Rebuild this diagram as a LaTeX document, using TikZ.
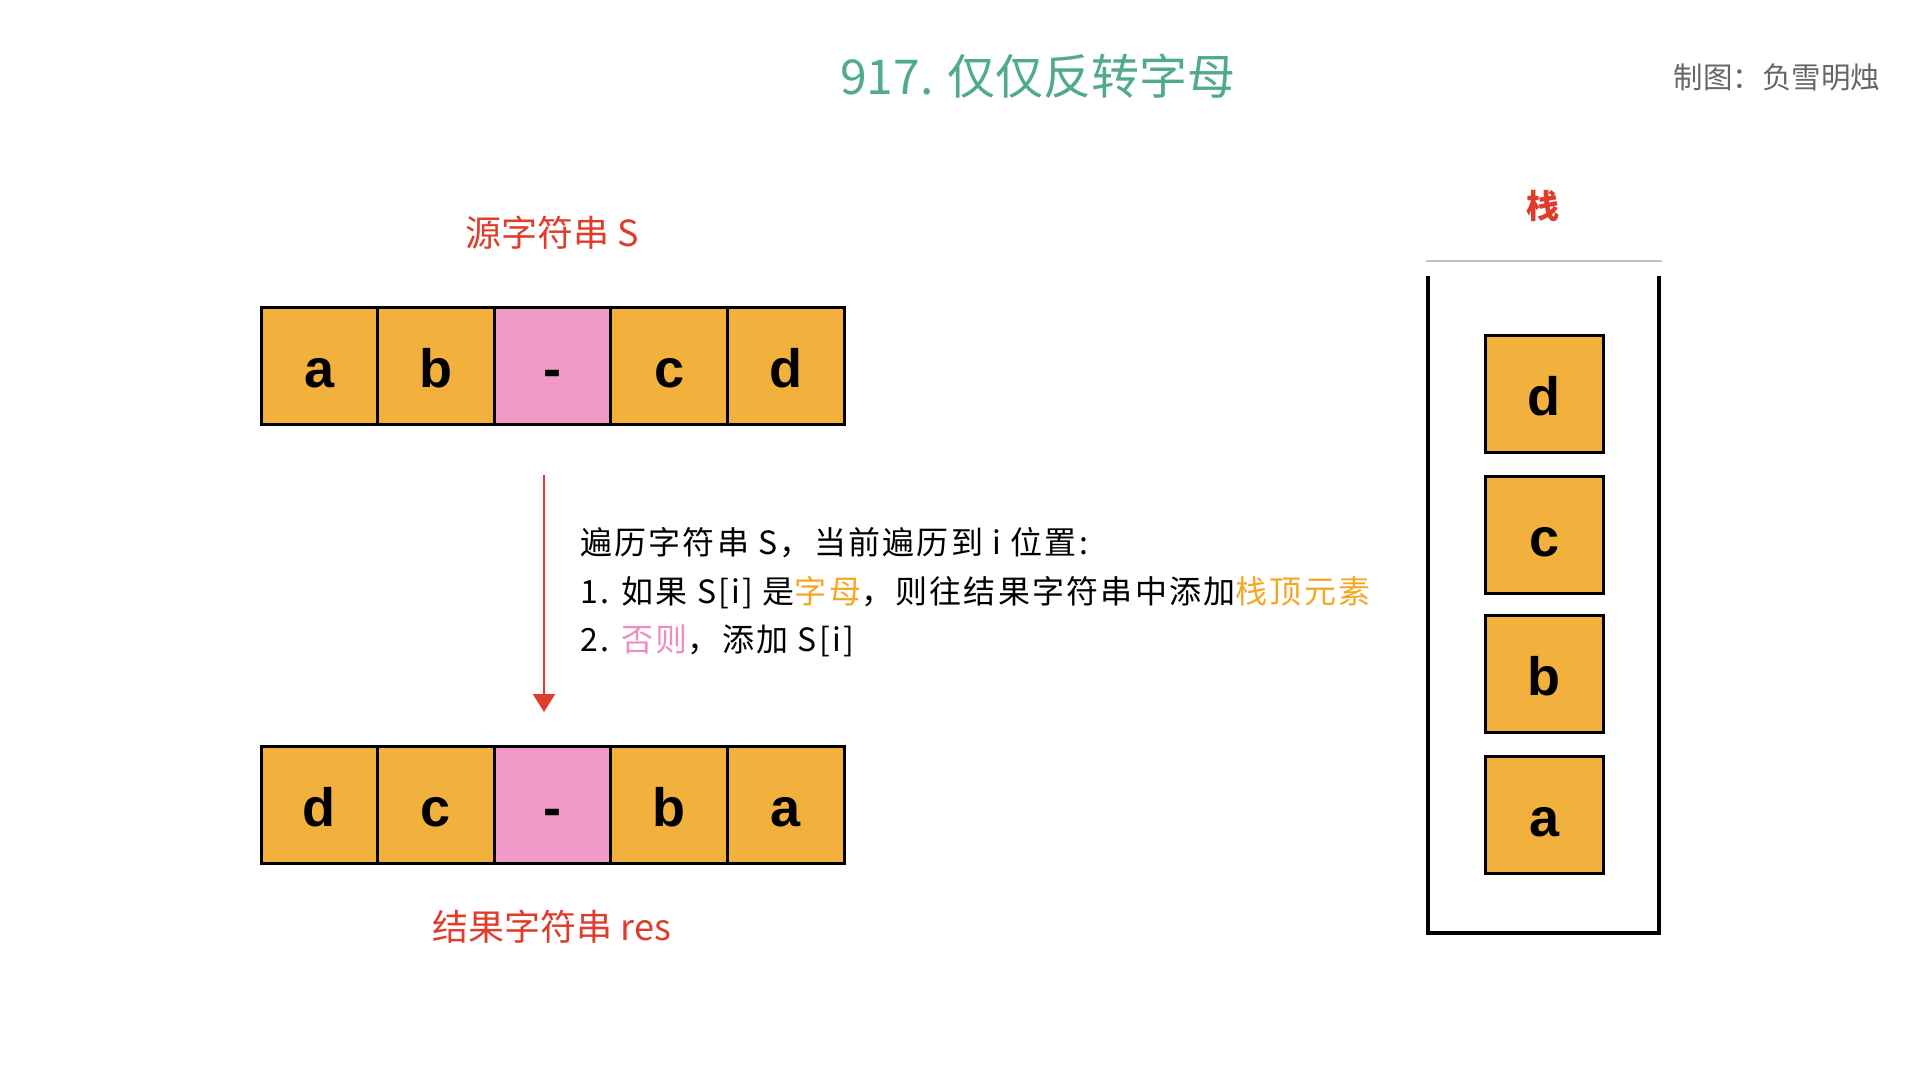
\documentclass[tikz,border=0pt]{standalone}
\usepackage{fontspec}
\setmainfont{Liberation Sans}
\newfontfamily\cjk{Noto Sans CJK SC}
\newfontfamily\cjkwide{Noto Sans CJK SC}[LetterSpace=7]
\usetikzlibrary{arrows.meta}
\definecolor{cellor}{HTML}{F2B03D}
\definecolor{cellpk}{HTML}{F29AC7}
\definecolor{ttlgreen}{HTML}{4FAB8A}
\definecolor{lblred}{HTML}{E03C2C}
\definecolor{txtor}{HTML}{F5A623}
\definecolor{txtpk}{HTML}{F08CC0}
\definecolor{authgrey}{HTML}{666666}
\tikzset{
  cell/.style={draw=black, line width=3pt, fill=cellor, minimum width=116.6pt, minimum height=117pt, inner sep=0pt, text height=43pt, text depth=0pt, font=\fontsize{54}{60}\selectfont\bfseries},
  pcell/.style={cell, fill=cellpk},
  stk/.style={cell, minimum width=118pt},
  lbl/.style={font=\cjk\fontsize{36}{42}\selectfont, text=lblred, inner sep=0pt},
  desc/.style={font=\cjkwide\fontsize{32}{38}\selectfont, anchor=west, inner sep=0pt},
}
\begin{document}
\begin{tikzpicture}[x=1pt,y=-1pt]
\useasboundingbox[fill=white] (0,0) rectangle (1920,1080);
% title and author
\node[font=\cjk\fontsize{48}{56}\selectfont, text=ttlgreen, inner sep=0pt] (title) at (1038,76) {917. 仅仅反转字母};
\node[font=\cjk\fontsize{29.5}{34}\selectfont, text=authgrey, inner sep=0pt] (author) at (1777,77) {制图：负雪明烛};
% source string
\node[lbl] (srclbl) at (552,233) {源字符串 S};
\node[cell] (s1) at (319.3,366) {a};
\node[cell] (s2) at (435.9,366) {b};
\node[pcell] (s3) at (552.5,366) {-};
\node[cell] (s4) at (669.1,366) {c};
\node[cell] (s5) at (785.7,366) {d};
% result string
\node[cell] (r1) at (319.3,805) {d};
\node[cell] (r2) at (435.9,805) {c};
\node[pcell] (r3) at (552.5,805) {-};
\node[cell] (r4) at (669.1,805) {b};
\node[cell] (r5) at (785.7,805) {a};
\node[lbl] (reslbl) at (552,927) {结果字符串 res};
% arrow
\coordinate (astart) at (544,475);
\coordinate (aend) at (544,712);
\draw[lblred, line width=2.2pt, -{Triangle[width=22pt,length=18pt]}] (astart) -- (aend);
% description
\node[desc] (d1) at (580,543) {遍历字符串 S，当前遍历到 i 位置:};
\node[desc] (d2) at (580,593) {1. 如果 S[i] 是\textcolor{txtor}{字母}，则往结果字符串中添加\textcolor{txtor}{栈顶元素}};
\node[desc] (d3) at (580,641) {2. \textcolor{txtpk}{否则}，添加 S[i]};
% stack
\node[font=\cjk\bfseries\fontsize{33}{40}\selectfont, text=lblred, inner sep=0pt] (stklbl) at (1543,206) {栈};
\coordinate (gl) at (1426,261);
\coordinate (gr) at (1662,261);
\draw[black!25, line width=1.2pt] (gl) -- (gr);
\coordinate (wtl) at (1428,276);
\coordinate (wbl) at (1428,933);
\coordinate (wbr) at (1659,933);
\coordinate (wtr) at (1659,276);
\draw[black, line width=4pt, line join=miter] (wtl) -- (wbl) -- (wbr) -- (wtr);
\node[stk] (k4) at (1544,394) {d};
\node[stk] (k3) at (1544,534.5) {c};
\node[stk] (k2) at (1544,674) {b};
\node[stk] (k1) at (1544,815) {a};
\end{tikzpicture}
\end{document}
